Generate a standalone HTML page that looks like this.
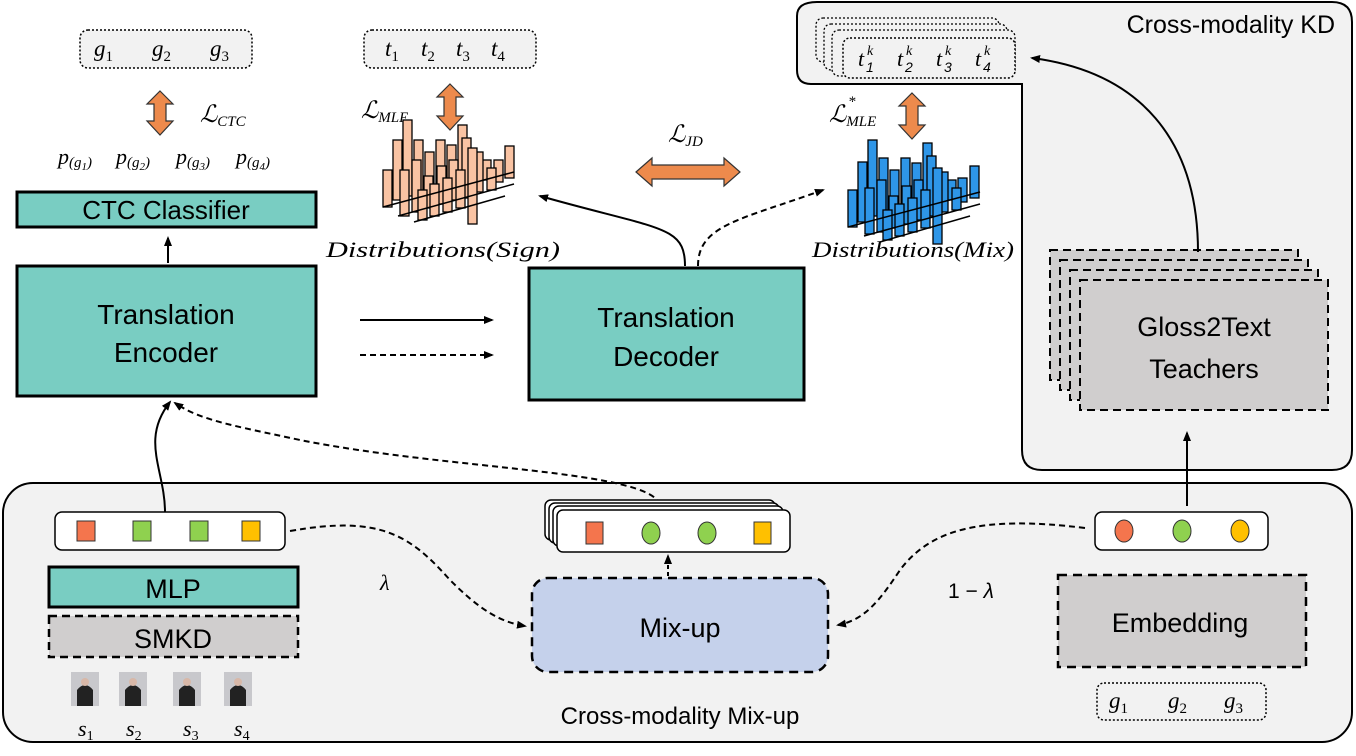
<!DOCTYPE html>
<html><head><meta charset="utf-8"><style>
body{margin:0;background:#fff}
svg{display:block}
text{font-family:"Liberation Sans",sans-serif}
.m{font-family:"Liberation Serif",serif;font-style:italic}
</style></head><body>
<svg width="1356" height="756" viewBox="0 0 1356 756" xmlns="http://www.w3.org/2000/svg">
<defs>
<marker id="ah" markerWidth="10" markerHeight="8" refX="8" refY="4" orient="auto" markerUnits="userSpaceOnUse"><path d="M0,0 L10,4 L0,8 Z" fill="#000"/></marker>
</defs>
<path d="M817,2 H1332 Q1352,2 1352,22 V450 Q1352,470 1332,470 H1042 Q1022,470 1022,450 V84 H811 Q797,84 797,70 V16 Q797,2 817,2 Z" fill="#f2f2f2" stroke="#000" stroke-width="2"/>
<text x="1335" y="33" font-size="25" text-anchor="end">Cross-modality KD</text>
<rect x="3" y="483" width="1349" height="259" rx="30" fill="#f2f2f2" stroke="#000" stroke-width="2"/>

<rect x="80" y="30" width="172" height="38" rx="8" fill="#f2f2f2" stroke="#000" stroke-width="1.5" stroke-dasharray="2 2"/>
<text class="m" x="94" y="56" font-size="23">g<tspan font-size="15" dy="5" font-style="normal">1</tspan></text>
<text class="m" x="152" y="56" font-size="23">g<tspan font-size="15" dy="5" font-style="normal">2</tspan></text>
<text class="m" x="210" y="56" font-size="23">g<tspan font-size="15" dy="5" font-style="normal">3</tspan></text>
<rect x="364" y="30" width="172" height="38" rx="8" fill="#f2f2f2" stroke="#000" stroke-width="1.5" stroke-dasharray="2 2"/>
<text class="m" x="385" y="56" font-size="23">t<tspan font-size="15" dy="5" font-style="normal">1</tspan></text>
<text class="m" x="421" y="56" font-size="23">t<tspan font-size="15" dy="5" font-style="normal">2</tspan></text>
<text class="m" x="456" y="56" font-size="23">t<tspan font-size="15" dy="5" font-style="normal">3</tspan></text>
<text class="m" x="491" y="56" font-size="23">t<tspan font-size="15" dy="5" font-style="normal">4</tspan></text>

<rect x="816" y="18" width="183" height="44" rx="7" fill="#f2f2f2" stroke="#000" stroke-width="1.3" stroke-dasharray="2 2"/>
<rect x="824" y="24" width="183" height="46" rx="7" fill="#f2f2f2" stroke="#000" stroke-width="1.3" stroke-dasharray="2 2"/>
<rect x="832" y="30" width="183" height="46" rx="7" fill="#f2f2f2" stroke="#000" stroke-width="1.3" stroke-dasharray="2 2"/>
<rect x="843" y="38" width="172" height="40" rx="7" fill="#f2f2f2" stroke="#000" stroke-width="1.5" stroke-dasharray="2 2"/>
<g class="m">
<text class="m" x="858" y="66" font-size="22">t</text><text x="866" y="72" font-size="14" font-family="Liberation Serif">1</text><text class="m" x="867" y="55" font-size="14">k</text>
<text class="m" x="897" y="66" font-size="22">t</text><text x="905" y="72" font-size="14" font-family="Liberation Serif">2</text><text class="m" x="906" y="55" font-size="14">k</text>
<text class="m" x="936" y="66" font-size="22">t</text><text x="944" y="72" font-size="14" font-family="Liberation Serif">3</text><text class="m" x="945" y="55" font-size="14">k</text>
<text class="m" x="975" y="66" font-size="22">t</text><text x="983" y="72" font-size="14" font-family="Liberation Serif">4</text><text class="m" x="984" y="55" font-size="14">k</text>
</g>

<g fill="#ed8a4c" stroke="#333" stroke-width="1.2">
<path d="M160,91 L173,104 L166,104 L166,121 L173,121 L160,135 L147,121 L154,121 L154,104 L147,104 Z"/>
<path d="M450,84 L463,97 L456,97 L456,116 L463,116 L450,130 L437,116 L444,116 L444,97 L437,97 Z"/>
<path d="M912,93 L925,106 L918,106 L918,125 L925,125 L912,139 L899,125 L906,125 L906,106 L899,106 Z"/>
<path d="M636,172 L652,158 L652,165 L724,165 L724,158 L740,172 L724,186 L724,179 L652,179 L652,186 Z"/>
</g>
<text class="m" x="200" y="122" font-size="24">ℒ<tspan font-size="15" dy="4">CTC</tspan></text>
<text class="m" x="361" y="118" font-size="24">ℒ<tspan font-size="15" dy="4">MLE</tspan></text>
<text class="m" x="668" y="142" font-size="24">ℒ<tspan font-size="15" dy="4">JD</tspan></text>
<text class="m" x="829" y="122" font-size="24">ℒ<tspan font-size="15" dy="4">MLE</tspan></text>
<text class="m" x="848" y="106" font-size="15">*</text>

<g class="m">
<text class="m" x="58" y="164" font-size="22">p<tspan font-size="15" dy="3">(g</tspan><tspan font-size="11" dy="3">1</tspan><tspan font-size="15" dy="-3">)</tspan></text>
<text class="m" x="116" y="164" font-size="22">p<tspan font-size="15" dy="3">(g</tspan><tspan font-size="11" dy="3">2</tspan><tspan font-size="15" dy="-3">)</tspan></text>
<text class="m" x="176" y="164" font-size="22">p<tspan font-size="15" dy="3">(g</tspan><tspan font-size="11" dy="3">3</tspan><tspan font-size="15" dy="-3">)</tspan></text>
<text class="m" x="236" y="164" font-size="22">p<tspan font-size="15" dy="3">(g</tspan><tspan font-size="11" dy="3">4</tspan><tspan font-size="15" dy="-3">)</tspan></text>
</g>

<rect x="17" y="192" width="299" height="35" fill="#79cdc2" stroke="#000" stroke-width="3"/>
<text x="166" y="219" font-size="26" text-anchor="middle">CTC Classifier</text>
<line x1="168" y1="263" x2="168" y2="238" stroke="#000" stroke-width="2" marker-end="url(#ah)"/>
<rect x="17" y="266" width="299" height="130" fill="#79cdc2" stroke="#000" stroke-width="3"/>
<text x="166" y="324" font-size="28" text-anchor="middle">Translation</text>
<text x="166" y="362" font-size="28" text-anchor="middle">Encoder</text>
<line x1="360" y1="320" x2="492" y2="320" stroke="#000" stroke-width="2" marker-end="url(#ah)"/>
<line x1="360" y1="355" x2="492" y2="355" stroke="#000" stroke-width="2" stroke-dasharray="6 4" marker-end="url(#ah)"/>
<rect x="529" y="268" width="275" height="132" fill="#79cdc2" stroke="#000" stroke-width="3"/>
<text x="666" y="327" font-size="28" text-anchor="middle">Translation</text>
<text x="666" y="366" font-size="28" text-anchor="middle">Decoder</text>
<path d="M685,266 C685,225 660,230 540,196" fill="none" stroke="#000" stroke-width="2" marker-end="url(#ah)"/>
<path d="M698,266 C698,225 740,220 823,190" fill="none" stroke="#000" stroke-width="2" stroke-dasharray="6 4" marker-end="url(#ah)"/>

<g fill="#f9c3a3" stroke="#000" stroke-width="1.3">
<rect x="383" y="170" width="9" height="37"/><rect x="393" y="140" width="9" height="60"/><rect x="403" y="120" width="9" height="76"/><rect x="414" y="140" width="9" height="53"/><rect x="425" y="152" width="9" height="38"/><rect x="436" y="140" width="9" height="46"/><rect x="447" y="145" width="9" height="38"/><rect x="458" y="125" width="9" height="55"/><rect x="469" y="155" width="9" height="22"/><rect x="482" y="160" width="9" height="20"/><rect x="494" y="160" width="9" height="22"/><rect x="505" y="146" width="9" height="32"/>
<rect x="400" y="170" width="9" height="46"/><rect x="412" y="160" width="9" height="52"/><rect x="424" y="176" width="9" height="32"/><rect x="437" y="166" width="9" height="38"/><rect x="449" y="160" width="9" height="40"/><rect x="462" y="138" width="9" height="60"/><rect x="474" y="152" width="9" height="40"/><rect x="487" y="168" width="9" height="22"/>
<rect x="418" y="190" width="9" height="30"/><rect x="430" y="184" width="9" height="32"/><rect x="443" y="178" width="9" height="34"/><rect x="456" y="170" width="9" height="38"/><rect x="468" y="148" width="9" height="76"/>
</g>
<g stroke="#000" stroke-width="1.5"><line x1="383" y1="207" x2="514" y2="172"/><line x1="398" y1="216" x2="514" y2="184"/><line x1="414" y1="222" x2="505" y2="196"/></g>
<g fill="#2e96e8" stroke="#000" stroke-width="1.3">
<rect x="848" y="190" width="9" height="37"/><rect x="858" y="162" width="9" height="60"/><rect x="868" y="140" width="9" height="76"/><rect x="879" y="158" width="9" height="53"/><rect x="890" y="170" width="9" height="38"/><rect x="901" y="158" width="9" height="46"/><rect x="912" y="163" width="9" height="38"/><rect x="923" y="143" width="9" height="55"/><rect x="934" y="175" width="9" height="22"/><rect x="947" y="180" width="9" height="20"/><rect x="958" y="178" width="9" height="24"/><rect x="970" y="166" width="9" height="32"/>
<rect x="865" y="188" width="9" height="46"/><rect x="877" y="180" width="9" height="52"/><rect x="889" y="196" width="9" height="32"/><rect x="902" y="186" width="9" height="38"/><rect x="914" y="180" width="9" height="40"/><rect x="927" y="156" width="9" height="60"/><rect x="939" y="172" width="9" height="40"/><rect x="952" y="188" width="9" height="22"/>
<rect x="883" y="210" width="9" height="30"/><rect x="895" y="204" width="9" height="32"/><rect x="908" y="198" width="9" height="34"/><rect x="921" y="190" width="9" height="38"/><rect x="933" y="168" width="9" height="76"/>
</g>
<g stroke="#000" stroke-width="1.5"><line x1="848" y1="227" x2="980" y2="192"/><line x1="864" y1="236" x2="980" y2="204"/><line x1="880" y1="242" x2="970" y2="216"/></g>
<text class="m" x="326" y="257" font-size="22" textLength="234" lengthAdjust="spacingAndGlyphs">Distributions(Sign)</text>
<text class="m" x="812" y="257" font-size="22" textLength="202" lengthAdjust="spacingAndGlyphs">Distributions(Mix)</text>

<g fill="#d0cece" stroke="#000" stroke-width="2" stroke-dasharray="8 5">
<rect x="1050" y="250" width="248" height="130"/>
<rect x="1060" y="260" width="248" height="130"/>
<rect x="1070" y="270" width="248" height="130"/>
<rect x="1080" y="280" width="248" height="130"/>
</g>
<text x="1204" y="336" font-size="27" text-anchor="middle">Gloss2Text</text>
<text x="1204" y="378" font-size="27" text-anchor="middle">Teachers</text>
<path d="M1198,252 C1198,140 1140,72 1032,58" fill="none" stroke="#000" stroke-width="2" marker-end="url(#ah)"/>
<line x1="1187" y1="506" x2="1187" y2="433" stroke="#000" stroke-width="2" marker-end="url(#ah)"/>

<rect x="55" y="512" width="230" height="38" rx="7" fill="#fff" stroke="#000" stroke-width="1.5"/>
<rect x="77" y="521" width="18" height="20" fill="#f4754d" stroke="#333"/>
<rect x="133" y="521" width="18" height="20" fill="#8fd14f" stroke="#333"/>
<rect x="190" y="521" width="18" height="20" fill="#8fd14f" stroke="#333"/>
<rect x="242" y="521" width="18" height="20" fill="#ffc000" stroke="#333"/>
<rect x="49" y="567" width="249" height="40" fill="#79cdc2" stroke="#000" stroke-width="3"/>
<text x="173" y="598" font-size="27" text-anchor="middle">MLP</text>
<rect x="49" y="616" width="249" height="41" fill="#d0cece" stroke="#000" stroke-width="2.5" stroke-dasharray="8 5"/>
<text x="173" y="648" font-size="27" text-anchor="middle">SMKD</text>
<g>
<rect x="71" y="672" width="28" height="34" fill="#c8c8cc"/><rect x="119" y="672" width="28" height="34" fill="#c8c8cc"/><rect x="173" y="672" width="28" height="34" fill="#c8c8cc"/><rect x="224" y="672" width="28" height="34" fill="#c8c8cc"/>
<path d="M77,706 L77,690 Q85,680 93,690 L93,706 Z M125,706 L125,690 Q133,680 141,690 L141,706 Z M179,706 L179,690 Q187,680 195,690 L195,706 Z M230,706 L230,690 Q238,680 246,690 L246,706 Z" fill="#222"/>
<circle cx="85" cy="682" r="4" fill="#d8b8a8"/><circle cx="133" cy="682" r="4" fill="#d8b8a8"/><circle cx="187" cy="682" r="4" fill="#d8b8a8"/><circle cx="238" cy="682" r="4" fill="#d8b8a8"/>
</g>
<g class="m">
<text class="m" x="78" y="736" font-size="22">s<tspan font-size="14" dy="4" font-style="normal">1</tspan></text>
<text class="m" x="126" y="736" font-size="22">s<tspan font-size="14" dy="4" font-style="normal">2</tspan></text>
<text class="m" x="183" y="736" font-size="22">s<tspan font-size="14" dy="4" font-style="normal">3</tspan></text>
<text class="m" x="234" y="736" font-size="22">s<tspan font-size="14" dy="4" font-style="normal">4</tspan></text>
</g>
<path d="M165,512 C165,470 140,440 170,402" fill="none" stroke="#000" stroke-width="2" marker-end="url(#ah)"/>
<path d="M660,505 C650,470 450,470 300,440 C230,425 200,420 175,403" fill="none" stroke="#000" stroke-width="2" stroke-dasharray="6 4" marker-end="url(#ah)"/>
<path d="M290,531 C380,515 410,535 450,580 C480,610 500,622 525,626" fill="none" stroke="#000" stroke-width="2" stroke-dasharray="6 4" marker-end="url(#ah)"/>
<text class="m" x="380" y="590" font-size="22">λ</text>

<rect x="545" y="500" width="230" height="40" rx="6" fill="#fff" stroke="#000" stroke-width="1.5"/>
<rect x="549" y="503" width="230" height="40" rx="6" fill="#fff" stroke="#000" stroke-width="1.5"/>
<rect x="553" y="506" width="230" height="40" rx="6" fill="#fff" stroke="#000" stroke-width="1.5"/>
<rect x="557" y="510" width="233" height="42" rx="6" fill="#fff" stroke="#000" stroke-width="1.5"/>
<rect x="586" y="522" width="17" height="22" fill="#f4754d" stroke="#333"/>
<ellipse cx="651" cy="533" rx="9" ry="11" fill="#8fd14f" stroke="#333"/>
<ellipse cx="707" cy="533" rx="9" ry="11" fill="#8fd14f" stroke="#333"/>
<rect x="754" y="522" width="17" height="22" fill="#ffc000" stroke="#333"/>
<line x1="668" y1="576" x2="668" y2="556" stroke="#000" stroke-width="2" stroke-dasharray="4 3" marker-end="url(#ah)"/>
<rect x="532" y="578" width="296" height="94" rx="16" fill="#c5d1eb" stroke="#000" stroke-width="2.5" stroke-dasharray="9 6"/>
<text x="680" y="637" font-size="27" text-anchor="middle">Mix-up</text>
<text x="680" y="724" font-size="24" text-anchor="middle">Cross-modality Mix-up</text>
<path d="M1085,528 C980,515 930,530 900,570 C880,600 865,620 838,625" fill="none" stroke="#000" stroke-width="2" stroke-dasharray="6 4" marker-end="url(#ah)"/>
<text x="948" y="598" font-size="21" font-family="Liberation Serif">1 − <tspan font-style="italic">λ</tspan></text>

<rect x="1095" y="512" width="173" height="38" rx="7" fill="#fff" stroke="#000" stroke-width="1.5"/>
<ellipse cx="1124" cy="531" rx="9" ry="11" fill="#f4754d" stroke="#333"/>
<ellipse cx="1182" cy="531" rx="9" ry="11" fill="#8fd14f" stroke="#333"/>
<ellipse cx="1240" cy="531" rx="9" ry="11" fill="#ffc000" stroke="#333"/>
<rect x="1058" y="575" width="248" height="92" fill="#d0cece" stroke="#000" stroke-width="2.5" stroke-dasharray="9 6"/>
<text x="1180" y="632" font-size="27" text-anchor="middle">Embedding</text>
<rect x="1097" y="683" width="169" height="37" rx="7" fill="#f2f2f2" stroke="#000" stroke-width="1.5" stroke-dasharray="2 2"/>
<text class="m" x="1109" y="708" font-size="23">g<tspan font-size="15" dy="5" font-style="normal">1</tspan></text>
<text class="m" x="1168" y="708" font-size="23">g<tspan font-size="15" dy="5" font-style="normal">2</tspan></text>
<text class="m" x="1224" y="708" font-size="23">g<tspan font-size="15" dy="5" font-style="normal">3</tspan></text>
</svg>
</body></html>
